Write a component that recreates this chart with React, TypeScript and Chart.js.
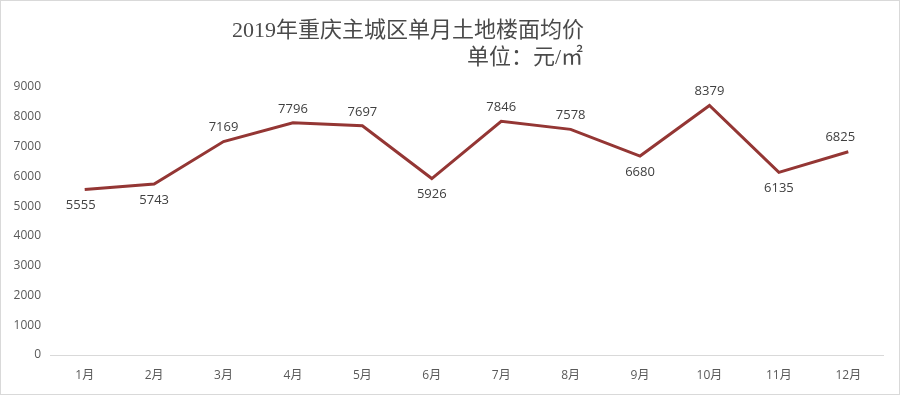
import React, { useEffect, useRef } from "react";
import { Chart, registerables } from "chart.js";

Chart.register(...registerables);

const months = ["1月", "2月", "3月", "4月", "5月", "6月", "7月", "8月", "9月", "10月", "11月", "12月"];
const prices = [5555, 5743, 7169, 7796, 7697, 5926, 7846, 7578, 6680, 8379, 6135, 6825];
const labelSide = ["below", "below", "above", "above", "above", "below", "above", "above", "below", "above", "below", "above"];
const yTicks = [0, 1000, 2000, 3000, 4000, 5000, 6000, 7000, 8000, 9000];
const titleText = "2019年重庆主城区单月土地楼面均价";
const unitText = "单位：元/㎡";

const labelPlugin = {
  id: "pointLabels",
  afterDatasetsDraw(chart: any) {
    const ctx = chart.ctx;
    const meta = chart.getDatasetMeta(0);
    ctx.save();
    ctx.font = "13px 'Open Sans', 'Noto Sans', sans-serif";
    ctx.fillStyle = "#404040";
    ctx.textAlign = "center";
    ctx.textBaseline = "middle";
    meta.data.forEach((pt: any, i: number) => {
      const v = prices[i];
      const side = labelSide[i];
      const dy = side === "above" ? -14 : 16;
      ctx.fillText(String(v), pt.x - (i === 0 ? 4 : i === 11 ? 8 : 0), pt.y + dy);
    });
    ctx.restore();
  },
};

const titlePlugin = {
  id: "customTitle",
  afterDraw(chart: any) {
    const ctx = chart.ctx;
    ctx.save();
    ctx.fillStyle = "#4a4a4a";
    ctx.font = "22px 'Liberation Serif', 'Noto Sans CJK SC', serif";
    ctx.textBaseline = "middle";
    ctx.textAlign = "center";
    ctx.fillText(titleText, 407, 30);
    ctx.textAlign = "right";
    ctx.fillText(unitText, 582, 57);
    ctx.restore();
  },
};

export default function App() {
  const canvasRef = useRef<HTMLCanvasElement | null>(null);

  useEffect(() => {
    document.body.style.margin = "0";
    const chart = new Chart(canvasRef.current as HTMLCanvasElement, {
      type: "line",
      data: {
        labels: months,
        datasets: [
          {
            data: prices,
            borderColor: "#943634",
            borderWidth: 3,
            pointRadius: 0,
            tension: 0,
            fill: false,
          },
        ],
      },
      options: {
        animation: false,
        responsive: false,
        maintainAspectRatio: false,
        layout: { padding: { top: 86, right: 16, left: 0, bottom: 0 } },
        plugins: {
          legend: { display: false },
          title: { display: false },
          tooltip: { enabled: false },
        },
        scales: {
          x: {
            offset: true,
            grid: { display: false, drawTicks: false, offset: true },
            border: { display: true, color: "#d9d9d9", width: 1 },
            ticks: {
              color: "#595959",
              font: { size: 12, family: "'Open Sans', 'Noto Sans CJK SC', sans-serif" },
              padding: 13,
              maxRotation: 0,
            },
            afterFit: (s: any) => {
              s.height = 39;
            },
          },
          y: {
            min: 0,
            max: 9000,
            grid: { display: false, drawTicks: false },
            border: { display: false },
            afterBuildTicks: (s: any) => {
              s.ticks = yTicks.map((v) => ({ value: v }));
            },
            ticks: {
              color: "#595959",
              font: { size: 12, family: "'Open Sans', 'Noto Sans', sans-serif" },
              padding: 9,
              callback: (v: any) => String(v),
            },
            afterFit: (s: any) => {
              s.width = 49;
            },
          },
        },
      },
      plugins: [labelPlugin, titlePlugin],
    });
    return () => chart.destroy();
  }, []);

  return (
    <div
      style={{
        position: "fixed",
        left: 0,
        top: 0,
        width: 900,
        height: 395,
        boxSizing: "border-box",
        border: "1px solid #d9d9d9",
        background: "#fff",
      }}
    >
      <canvas ref={canvasRef} width={898} height={393} style={{ display: "block" }} />
    </div>
  );
}
